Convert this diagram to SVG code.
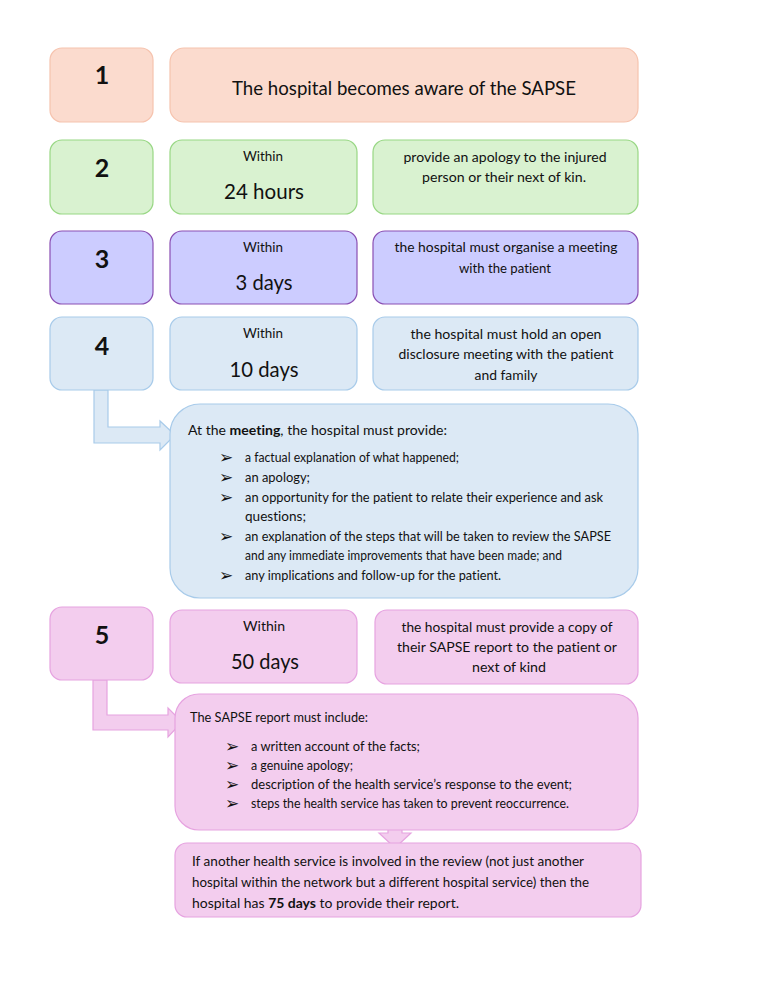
<svg xmlns="http://www.w3.org/2000/svg" width="768" height="994" viewBox="0 0 768 994">
<style>
text{font-family:Lato,"Open Sans","Liberation Sans",sans-serif;fill:#111;font-variant-ligatures:none}
.num{font-size:25px;font-weight:bold;text-anchor:middle}
.big{font-size:19px;text-anchor:middle}
.w{font-size:13px;text-anchor:middle}
.tm{font-size:21px;text-anchor:middle}
.d{font-size:13px;text-anchor:middle}
.p{font-size:13px}
.b{font-family:"DejaVu Sans",sans-serif;font-size:17px}
.r1{fill:#fbdbce;stroke:#f6c3ae;stroke-width:1.2}
.r2{fill:#d9f2d0;stroke:#98d784;stroke-width:1.2}
.r3{fill:#ccccff;stroke:#8a4fb3;stroke-width:1.2}
.r4{fill:#dce9f5;stroke:#a8cbea;stroke-width:1.2}
.r5{fill:#f3cdee;stroke:#e6a3e0;stroke-width:1.2}
</style>
<rect width="768" height="994" fill="#fff"/>
<g id="connectors">
<path class="r4" d="M94,390 L108,390 L108,427 L160,427 L160,421 L175,435 L160,450 L160,443 L94,443 Z"/>
<path class="r5" d="M93,680 L107,680 L107,715 L168,715 L168,708 L182,722 L168,737 L168,730 L93,730 Z"/>
<path class="r5" d="M388,817 L402,817 L402,833 L411,833 L395,848 L379,833 L388,833 Z"/>
</g>
<g id="n1">
<rect class="r1" x="50" y="48" width="103" height="74" rx="12"/>
<text class="num" x="102" y="84">1</text>
</g>
<g id="n1text">
<rect class="r1" x="170" y="48" width="468" height="74" rx="14"/>
<text class="big" x="404" y="95" textLength="344" lengthAdjust="spacingAndGlyphs">The hospital becomes aware of the SAPSE</text>
</g>
<g id="n2">
<rect class="r2" x="50" y="140" width="103" height="74" rx="12"/>
<text class="num" x="102" y="177">2</text>
</g>
<g id="n2time">
<rect class="r2" x="170" y="140" width="187" height="74" rx="12"/>
<text class="w" x="263" y="161" textLength="40" lengthAdjust="spacingAndGlyphs">Within</text>
<text class="tm" x="264" y="199" textLength="80" lengthAdjust="spacingAndGlyphs">24 hours</text>
</g>
<g id="n2desc">
<rect class="r2" x="373" y="140" width="265" height="74" rx="12"/>
<text class="d" x="505" y="162" textLength="203" lengthAdjust="spacingAndGlyphs">provide an apology to the injured</text>
<text class="d" x="504" y="182" textLength="164" lengthAdjust="spacingAndGlyphs">person or their next of kin.</text>
</g>
<g id="n3">
<rect class="r3" x="50" y="231" width="103" height="73" rx="12"/>
<text class="num" x="102" y="268">3</text>
</g>
<g id="n3time">
<rect class="r3" x="170" y="231" width="187" height="73" rx="12"/>
<text class="w" x="263" y="252" textLength="40" lengthAdjust="spacingAndGlyphs">Within</text>
<text class="tm" x="264" y="290" textLength="57" lengthAdjust="spacingAndGlyphs">3 days</text>
</g>
<g id="n3desc">
<rect class="r3" x="373" y="231" width="265" height="73" rx="12"/>
<text class="d" x="506" y="252" textLength="223" lengthAdjust="spacingAndGlyphs">the hospital must organise a meeting</text>
<text class="d" x="505" y="273" textLength="92" lengthAdjust="spacingAndGlyphs">with the patient</text>
</g>
<g id="n4">
<rect class="r4" x="50" y="317" width="103" height="73" rx="12"/>
<text class="num" x="102" y="355">4</text>
</g>
<g id="n4time">
<rect class="r4" x="170" y="317" width="187" height="73" rx="12"/>
<text class="w" x="263" y="338" textLength="40" lengthAdjust="spacingAndGlyphs">Within</text>
<text class="tm" x="264" y="377" textLength="69" lengthAdjust="spacingAndGlyphs">10 days</text>
</g>
<g id="n4desc">
<rect class="r4" x="373" y="317" width="265" height="73" rx="12"/>
<text class="d" x="506" y="339" textLength="191" lengthAdjust="spacingAndGlyphs">the hospital must hold an open</text>
<text class="d" x="506" y="359" textLength="215" lengthAdjust="spacingAndGlyphs">disclosure meeting with the patient</text>
<text class="d" x="506" y="380" textLength="63" lengthAdjust="spacingAndGlyphs">and family</text>
</g>
<g id="meeting">
<rect class="r4" x="170" y="404" width="468" height="194" rx="30"/>
<text class="p" x="188" y="435" textLength="259" lengthAdjust="spacingAndGlyphs">At the <tspan font-weight="bold">meeting</tspan>, the hospital must provide:</text>
<text class="b" x="219" y="463">➢</text>
<text class="p" x="245" y="462" textLength="214" lengthAdjust="spacingAndGlyphs">a factual explanation of what happened;</text>
<text class="b" x="219" y="483">➢</text>
<text class="p" x="245" y="482" textLength="65" lengthAdjust="spacingAndGlyphs">an apology;</text>
<text class="b" x="219" y="503">➢</text>
<text class="p" x="245" y="502" textLength="358" lengthAdjust="spacingAndGlyphs">an opportunity for the patient to relate their experience and ask</text>
<text class="p" x="245" y="521" textLength="61" lengthAdjust="spacingAndGlyphs">questions;</text>
<text class="b" x="219" y="542">➢</text>
<text class="p" x="245" y="541" textLength="366" lengthAdjust="spacingAndGlyphs">an explanation of the steps that will be taken to review the SAPSE</text>
<text class="p" x="245" y="560" textLength="317" lengthAdjust="spacingAndGlyphs">and any immediate improvements that have been made; and</text>
<text class="b" x="219" y="581">➢</text>
<text class="p" x="245" y="580" textLength="256" lengthAdjust="spacingAndGlyphs">any implications and follow-up for the patient.</text>
</g>
<g id="n5">
<rect class="r5" x="50" y="607" width="103" height="73" rx="12"/>
<text class="num" x="102" y="644">5</text>
</g>
<g id="n5time">
<rect class="r5" x="170" y="610" width="187" height="73" rx="12"/>
<text class="w" x="264" y="631" textLength="42" lengthAdjust="spacingAndGlyphs">Within</text>
<text class="tm" x="265" y="669" textLength="68" lengthAdjust="spacingAndGlyphs">50 days</text>
</g>
<g id="n5desc">
<rect class="r5" x="375" y="610" width="263" height="74" rx="12"/>
<text class="d" x="507" y="632" textLength="211" lengthAdjust="spacingAndGlyphs">the hospital must provide a copy of</text>
<text class="d" x="507" y="652" textLength="220" lengthAdjust="spacingAndGlyphs">their SAPSE report to the patient or</text>
<text class="d" x="509" y="672" textLength="74" lengthAdjust="spacingAndGlyphs">next of kind</text>
</g>
<g id="report">
<rect class="r5" x="175" y="694" width="463" height="136" rx="24"/>
<text class="p" x="190" y="722" textLength="178" lengthAdjust="spacingAndGlyphs">The SAPSE report must include:</text>
<text class="b" x="225" y="752">➢</text>
<text class="p" x="251" y="751" textLength="169" lengthAdjust="spacingAndGlyphs">a written account of the facts;</text>
<text class="b" x="225" y="771">➢</text>
<text class="p" x="251" y="770" textLength="102" lengthAdjust="spacingAndGlyphs">a genuine apology;</text>
<text class="b" x="225" y="790">➢</text>
<text class="p" x="251" y="789" textLength="321" lengthAdjust="spacingAndGlyphs">description of the health service’s response to the event;</text>
<text class="b" x="225" y="809">➢</text>
<text class="p" x="251" y="808" textLength="318" lengthAdjust="spacingAndGlyphs">steps the health service has taken to prevent reoccurrence.</text>
</g>
<g id="other">
<rect class="r5" x="175" y="843" width="466" height="74" rx="12"/>
<text class="p" x="192" y="866" textLength="392" lengthAdjust="spacingAndGlyphs">If another health service is involved in the review (not just another</text>
<text class="p" x="192" y="887" textLength="397" lengthAdjust="spacingAndGlyphs">hospital within the network but a different hospital service) then the</text>
<text class="p" x="192" y="908" textLength="267" lengthAdjust="spacingAndGlyphs">hospital has <tspan font-weight="bold">75 days</tspan> to provide their report.</text>
</g>
</svg>
